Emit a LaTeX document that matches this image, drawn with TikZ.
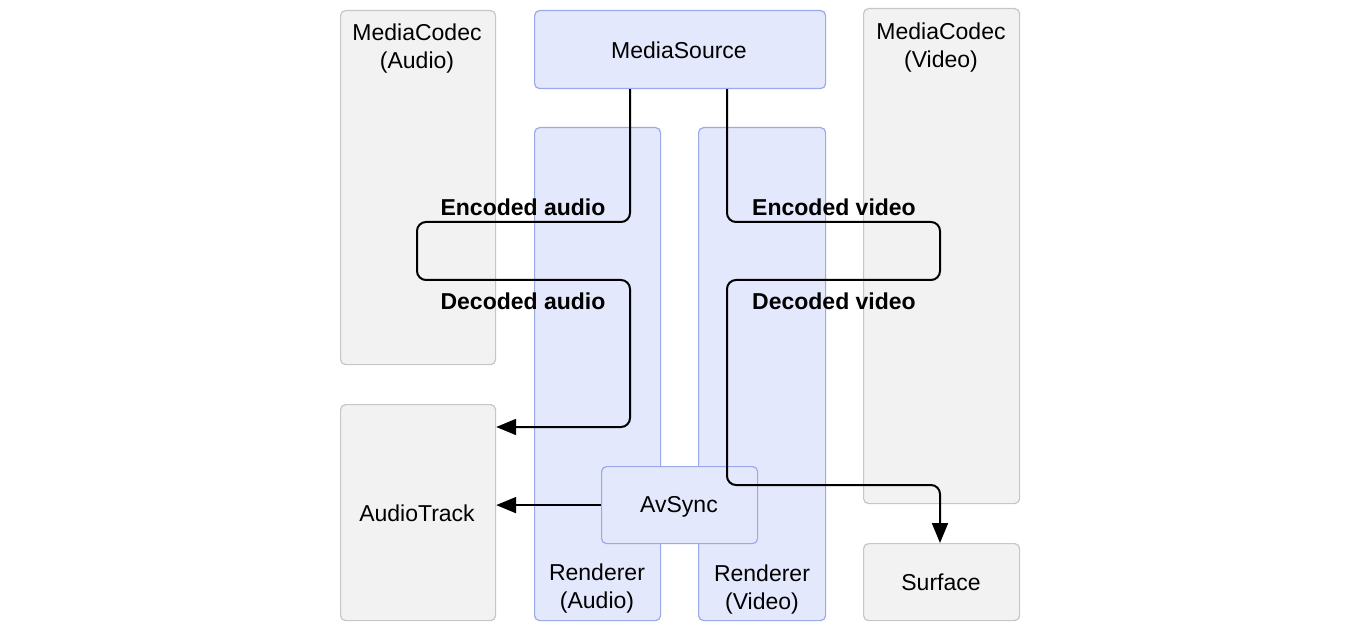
\documentclass[tikz,border=0pt]{standalone}
\usepackage{fontspec}
\setmainfont{Liberation Sans}
\usetikzlibrary{arrows.meta}
\definecolor{gfill}{HTML}{F2F2F2}
\definecolor{gdraw}{HTML}{C6C6C6}
\definecolor{bfill}{HTML}{E4E8FC}
\definecolor{bdraw}{HTML}{9AAAE6}
\tikzset{
  box/.style={rectangle, rounded corners=5pt, line width=1.2pt, anchor=north west, inner sep=0pt},
  gbox/.style={box, fill=gfill, draw=gdraw},
  bbox/.style={box, fill=bfill, draw=bdraw},
  basetxt/.style={inner sep=0pt, align=center, font=\fontsize{23}{28}\selectfont},
  txt/.style={basetxt, yshift=-2.5pt},
  btxt/.style={basetxt, font=\fontsize{23}{28}\selectfont\bfseries},
  conn/.style={line width=2pt, rounded corners=9pt, -{Triangle[length=20pt,width=16pt]}}
}
\begin{document}
\begin{tikzpicture}[x=1pt,y=-1pt]
\useasboundingbox (0,0) rectangle (1358,631);
% gray boxes
\node[gbox, minimum width=155, minimum height=354] (mca) at (340,10) {};
\node[gbox, minimum width=156, minimum height=495] (mcv) at (863,8) {};
\node[gbox, minimum width=155, minimum height=216] (at) at (340,404) {};
\node[gbox, minimum width=156, minimum height=77] (sf) at (863,543) {};
% blue boxes
\node[bbox, minimum width=291, minimum height=78] (ms) at (534,10) {};
\node[bbox, minimum width=126, minimum height=493] (ra) at (534,127) {};
\node[bbox, minimum width=127, minimum height=493] (rv) at (698,127) {};
\node[bbox, minimum width=156, minimum height=77] (av) at (601,466) {};
% texts
\node[txt] (mcaT) at (417,46) {MediaCodec\\(Audio)};
\node[txt] (mcvT) at (941,45) {MediaCodec\\(Video)};
\node[txt] (msT) at (679,47.5) {MediaSource};
\node[txt] (atT) at (417,511) {AudioTrack};
\node[txt] (sfT) at (941,580) {Surface};
\node[txt] (avT) at (679,504) {AvSync};
\node[txt] (raT) at (597,586) {Renderer\\(Audio)};
\node[txt] (rvT) at (762,587) {Renderer\\(Video)};
\node[btxt] (ea) at (523,207) {Encoded audio};
\node[btxt] (da) at (523,301) {Decoded audio};
\node[btxt] (ev) at (834,207) {Encoded video};
\node[btxt] (dv) at (834,301) {Decoded video};
% connectors
\draw[conn] (ms.south -| 630,0) -- (630,222) -- (417,222) -- (417,280) -- (630,280) -- (630,427) -- (at.east |- 0,427);
\draw[conn] (ms.south -| 727,0) -- (727,222) -- (940,222) -- (940,280) -- (727,280) -- (727,485) -- (940,485) -- (sf.north -| 940,0);
\draw[conn] (av.west) -- (at.east |- av.west);
\end{tikzpicture}
\end{document}
